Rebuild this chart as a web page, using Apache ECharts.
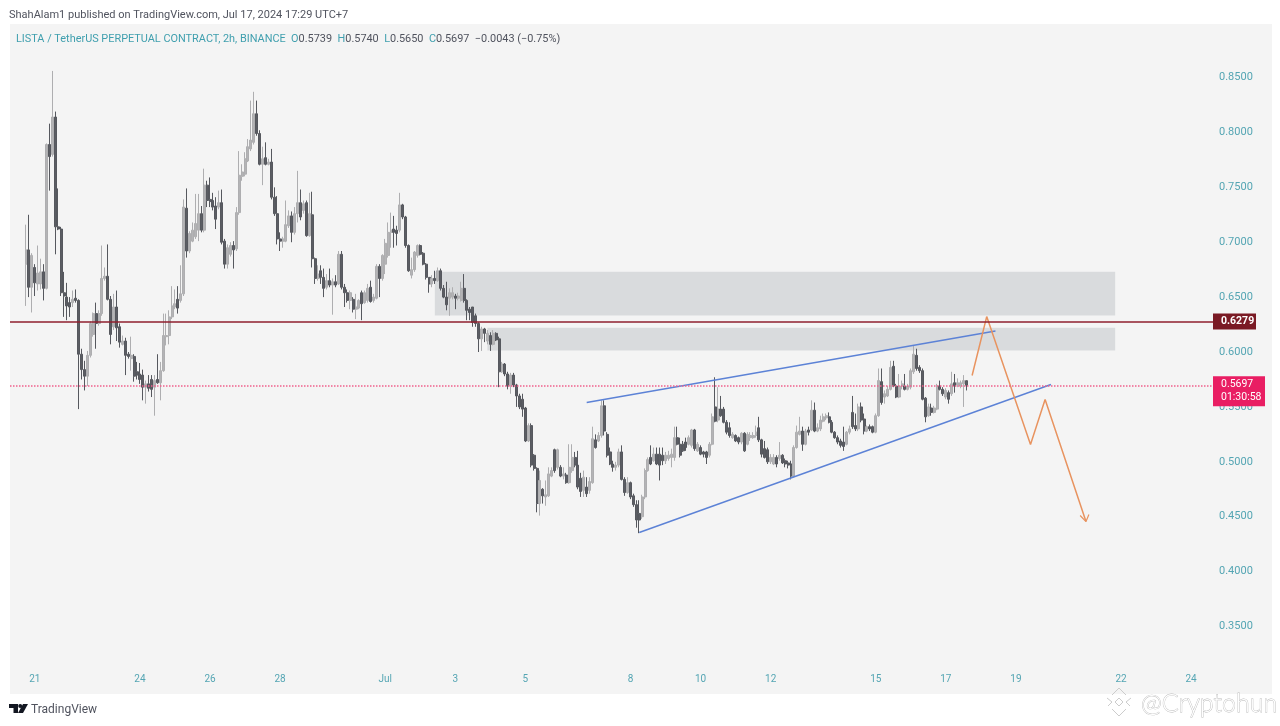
<!DOCTYPE html>
<html>
<head>
<meta charset="utf-8">
<title>LISTA / TetherUS 2h</title>
<style>
  html, body { margin: 0; padding: 0; background: #fff; }
  #chart { width: 1280px; height: 726px; }
</style>
<script src="https://cdn.jsdelivr.net/npm/echarts@6/dist/echarts.min.js"></script>
</head>
<body>
<div id="chart"></div>
<script>
// candles are 2h bars, first one sits at slot 5 of the time scale
const firstBar = 5;
const slotCount = 412;

const opens = [
  .680,.693,.659,.677,.662,.662,.673,.658,.789,.780,
  .814,.714,.712,.654,.650,.645,.645,.649,.647,.598,
  .584,.578,.597,.616,.635,.626,.635,.667,.669,.648,
  .623,.641,.623,.607,.610,.598,.594,.596,.582,.580,
  .579,.568,.571,.575,.568,.575,.572,.583,.614,.615,
  .632,.641,.648,.647,.653,.731,.692,.701,.705,.711,
  .726,.711,.752,.739,.738,.733,.732,.736,.701,.680,
  .689,.697,.694,.727,.760,.762,.774,.785,.791,.817,
  .799,.771,.777,.771,.773,.741,.726,.703,.701,.701,
  .715,.724,.709,.726,.736,.729,.736,.706,.725,.685,
  .667,.674,.668,.659,.665,.661,.664,.662,.689,.659,
  .654,.647,.648,.639,.640,.654,.645,.647,.659,.647,
  .649,.678,.667,.680,.688,.709,.712,.711,.711,.734,
  .723,.697,.670,.675,.688,.697,.690,.680,.668,.662,
  .667,.665,.674,.658,.650,.649,.650,.651,.649,.647,
  .658,.647,.639,.641,.633,.626,.612,.621,.610,.615,
  .607,.617,.612,.582,.589,.580,.569,.579,.570,.560,
  .557,.549,.519,.533,.506,.494,.462,.475,.468,.469,
  .487,.511,.495,.495,.487,.488,.481,.492,.504,.497,
  .485,.474,.477,.474,.481,.520,.519,.524,.551,.525,
  .509,.498,.495,.497,.509,.484,.472,.481,.469,.461,
  .453,.450,.468,.492,.504,.501,.507,.507,.506,.501,
  .503,.504,.504,.522,.516,.516,.518,.516,.515,.529,
  .510,.513,.509,.509,.506,.516,.550,.538,.548,.548,
  .536,.531,.522,.524,.522,.518,.526,.516,.522,.522,
  .524,.531,.520,.512,.511,.500,.498,.504,.503,.506,
  .501,.499,.498,.487,.513,.525,.528,.516,.529,.529,
  .547,.528,.530,.537,.540,.541,.536,.527,.522,.519,
  .518,.516,.527,.545,.533,.530,.550,.539,.528,.532,
  .532,.527,.542,.573,.559,.560,.566,.587,.569,.559,
  .569,.569,.566,.568,.582,.597,.586,.583,.558,.542,
  .549,.545,.548,.569,.566,.559,.563,.562,.572,.570,
  .569,.571,.5739
];
const closes = [
  .693,.659,.688,.663,.672,.673,.658,.789,.778,.814,
  .714,.712,.654,.651,.642,.641,.648,.647,.598,.584,
  .578,.597,.626,.635,.626,.635,.667,.669,.648,.616,
  .641,.622,.609,.610,.597,.596,.597,.578,.579,.575,
  .568,.571,.567,.566,.574,.572,.583,.615,.615,.632,
  .642,.644,.640,.653,.732,.692,.708,.711,.717,.726,
  .711,.752,.738,.737,.732,.721,.736,.700,.680,.695,
  .697,.693,.727,.761,.764,.776,.787,.793,.817,.799,
  .771,.776,.771,.773,.741,.726,.703,.701,.703,.716,
  .724,.709,.726,.736,.723,.735,.706,.726,.685,.667,
  .671,.668,.658,.665,.661,.664,.661,.689,.659,.654,
  .647,.654,.639,.641,.647,.644,.654,.658,.646,.650,
  .678,.667,.688,.699,.709,.711,.709,.708,.734,.723,
  .697,.674,.675,.691,.697,.689,.680,.668,.662,.667,
  .665,.674,.658,.650,.643,.654,.654,.649,.651,.658,
  .647,.638,.636,.627,.626,.612,.621,.617,.617,.607,
  .617,.611,.582,.589,.580,.569,.579,.570,.560,.550,
  .548,.519,.533,.497,.494,.462,.483,.469,.470,.489,
  .492,.492,.511,.487,.489,.481,.495,.504,.497,.477,
  .473,.486,.471,.482,.521,.513,.524,.551,.528,.506,
  .498,.495,.497,.509,.484,.472,.481,.468,.461,.447,
  .447,.468,.492,.502,.498,.507,.498,.497,.501,.506,
  .506,.507,.522,.516,.506,.510,.513,.522,.529,.512,
  .516,.507,.507,.504,.516,.541,.537,.548,.542,.536,
  .527,.524,.525,.519,.518,.526,.510,.525,.524,.524,
  .527,.520,.507,.504,.500,.504,.504,.498,.506,.499,
  .498,.497,.487,.513,.527,.528,.516,.528,.527,.547,
  .528,.531,.538,.541,.542,.536,.527,.522,.518,.515,
  .514,.527,.530,.532,.530,.550,.538,.528,.532,.530,
  .527,.542,.574,.554,.562,.566,.586,.569,.559,.569,
  .571,.566,.569,.583,.598,.585,.583,.557,.541,.550,
  .545,.549,.569,.566,.562,.565,.557,.571,.569,.572,
  .572,.574,.5697
];
const highs = [
  .716,.725,.690,.680,.697,.685,.680,.790,.808,.856,
  .819,.749,.714,.673,.663,.650,.656,.657,.648,.603,
  .592,.601,.628,.636,.645,.638,.697,.677,.698,.651,
  .653,.656,.626,.615,.613,.600,.614,.598,.591,.590,
  .584,.574,.579,.579,.579,.598,.591,.635,.635,.638,
  .660,.657,.660,.679,.739,.749,.710,.718,.744,.744,
  .733,.767,.756,.759,.745,.741,.747,.748,.703,.698,
  .700,.701,.732,.783,.771,.782,.794,.829,.837,.829,
  .802,.787,.791,.776,.785,.750,.742,.709,.705,.738,
  .729,.728,.732,.765,.748,.738,.738,.745,.746,.686,
  .679,.679,.676,.671,.676,.667,.670,.692,.692,.662,
  .657,.656,.650,.653,.648,.656,.656,.662,.665,.653,
  .680,.680,.689,.703,.718,.727,.724,.715,.745,.735,
  .724,.698,.686,.692,.698,.698,.691,.681,.668,.670,
  .674,.677,.676,.661,.664,.658,.659,.653,.654,.664,
  .671,.648,.641,.641,.635,.627,.623,.622,.620,.618,
  .620,.618,.614,.591,.590,.582,.581,.581,.571,.562,
  .562,.550,.535,.535,.507,.495,.492,.476,.483,.495,
  .495,.512,.512,.497,.495,.490,.516,.516,.509,.510,
  .490,.492,.486,.486,.532,.525,.527,.556,.556,.527,
  .513,.501,.500,.512,.515,.486,.486,.482,.471,.465,
  .465,.470,.494,.504,.515,.513,.513,.513,.513,.509,
  .510,.512,.532,.532,.522,.519,.522,.524,.530,.530,
  .518,.515,.510,.510,.518,.544,.577,.568,.560,.550,
  .538,.536,.527,.525,.523,.527,.527,.527,.527,.527,
  .533,.541,.521,.519,.513,.507,.507,.506,.518,.507,
  .503,.501,.501,.515,.533,.541,.532,.530,.532,.556,
  .554,.535,.542,.544,.544,.545,.538,.528,.524,.521,
  .532,.528,.533,.560,.544,.553,.554,.544,.533,.534,
  .533,.544,.585,.585,.565,.569,.592,.592,.571,.580,
  .574,.580,.571,.585,.606,.603,.588,.585,.559,.553,
  .553,.551,.571,.574,.568,.567,.565,.582,.580,.576,
  .574,.579,.5740
];
const lows = [
  .642,.650,.636,.651,.656,.657,.647,.657,.747,.778,
  .689,.711,.651,.632,.629,.632,.641,.645,.548,.575,
  .565,.569,.595,.614,.603,.624,.633,.665,.647,.607,
  .620,.610,.604,.606,.579,.594,.583,.573,.575,.571,
  .556,.553,.564,.559,.542,.571,.556,.582,.606,.607,
  .630,.639,.635,.645,.651,.686,.690,.700,.703,.701,
  .709,.709,.732,.732,.729,.712,.730,.698,.676,.676,
  .687,.676,.692,.725,.756,.760,.773,.783,.789,.797,
  .770,.752,.770,.770,.739,.724,.698,.692,.695,.700,
  .713,.700,.707,.718,.720,.726,.705,.705,.677,.662,
  .665,.662,.650,.657,.659,.634,.659,.661,.657,.641,
  .645,.639,.636,.630,.639,.629,.644,.645,.645,.645,
  .648,.650,.665,.671,.686,.695,.695,.697,.709,.721,
  .695,.673,.667,.673,.686,.688,.679,.666,.654,.659,
  .662,.664,.656,.649,.638,.633,.648,.639,.647,.646,
  .645,.629,.629,.623,.623,.600,.601,.609,.607,.601,
  .606,.610,.568,.581,.578,.566,.562,.568,.550,.548,
  .541,.518,.518,.495,.492,.454,.451,.462,.460,.468,
  .486,.490,.493,.486,.484,.480,.480,.490,.495,.475,
  .468,.468,.468,.471,.480,.512,.518,.522,.524,.504,
  .497,.491,.492,.495,.483,.469,.471,.466,.459,.440,
  .435,.448,.466,.491,.497,.500,.497,.483,.497,.498,
  .501,.495,.501,.515,.504,.509,.510,.515,.513,.510,
  .509,.506,.504,.498,.504,.515,.536,.536,.541,.535,
  .525,.522,.521,.518,.516,.516,.509,.515,.519,.521,
  .522,.518,.504,.503,.498,.498,.497,.495,.501,.498,
  .495,.494,.484,.486,.512,.524,.510,.515,.524,.528,
  .527,.527,.528,.536,.538,.535,.526,.521,.516,.513,
  .510,.515,.525,.530,.528,.528,.536,.525,.527,.528,
  .526,.526,.541,.552,.553,.559,.565,.568,.558,.558,
  .566,.565,.565,.566,.580,.583,.581,.556,.536,.541,
  .542,.544,.547,.565,.560,.557,.553,.560,.563,.568,
  .567,.550,.5650
];

// price axis
const priceTicks = [.35,.40,.45,.50,.55,.60,.65,.70,.75,.80,.85];
const priceMin = .3154;
const priceMax = .8728;

// time axis: only these days get a label
const tickDays = ['06-21','06-24','06-26','06-28','07-01','07-03','07-05','07-08','07-10','07-12','07-15','07-17','07-19','07-22','07-24'];
const tickLabels = ['21','24','26','28','Jul','3','5','8','10','12','15','17','19','22','24'];

// levels and drawings, [slot, price]
const resistanceLevel = .6279;
const lastPrice = .5697;
const upperZone = [[145, .6731], [378, .6332]];
const lowerZone = [[163, .6221], [378, .6014]];
const wedgeTop = [[197, .5540], [337, .6191]];
const wedgeBottom = [[215, .4356], [356, .5704]];
const projection = [[329, .5786], [334, .6323], [349, .5157], [354, .5567], [368, .4456]];
const arrowHead = [[366, .4511], [368, .4456], [369, .4520]];

function pad(n) { return (n < 10 ? '0' : '') + n; }

// slots start 16h before Jun 21
const categories = [];
for (let i = 0; i < slotCount; i++) {
  const d = new Date(Date.UTC(2024, 5, 20, 8 + i * 2));
  categories.push(pad(d.getUTCMonth() + 1) + '-' + pad(d.getUTCDate()) + ' ' + pad(d.getUTCHours()));
}

const candles = categories.map(function (c, i) {
  const k = i - firstBar;
  if (k < 0 || k >= opens.length) return ['-', '-', '-', '-'];
  return [opens[k], closes[k], lows[k], highs[k]];
});

function isTick(val) {
  return val.slice(-2) === '00' && tickDays.indexOf(val.slice(0, 5)) >= 0;
}

const teal = '#54a5b3';
const font = 'Roboto';

function drawLine(points, color, width, z) {
  return {
    type: 'line', data: points, symbol: 'none', silent: true, z: z,
    lineStyle: { color: color, width: width }
  };
}

const option = {
  animation: false,
  backgroundColor: '#fff',
  graphic: [
    { type: 'rect', z: -10, silent: true, shape: { x: 10, y: 24, width: 1262, height: 670 }, style: { fill: '#f4f4f4' } },
    // TradingView logo
    { type: 'polygon', silent: true, shape: { points: [[9, 704], [18, 704], [18, 713], [13.5, 713], [13.5, 708], [9, 708]] }, style: { fill: '#131722' } },
    { type: 'circle', silent: true, shape: { cx: 20.2, cy: 706, r: 2 }, style: { fill: '#131722' } },
    { type: 'polygon', silent: true, shape: { points: [[23, 704], [28, 704], [23, 713], [18, 713]] }, style: { fill: '#131722' } },
    // watermark diamond
    { type: 'polyline', silent: true, shape: { points: [[1112, 695], [1119, 688], [1126, 695]] }, style: { fill: 'none', stroke: '#ccc', lineWidth: 1 } },
    { type: 'polyline', silent: true, shape: { points: [[1108, 706], [1112, 702], [1107, 698]] }, style: { fill: 'none', stroke: '#ccc', lineWidth: 1 } },
    { type: 'polyline', silent: true, shape: { points: [[1130, 706], [1126, 702], [1131, 698]] }, style: { fill: 'none', stroke: '#ccc', lineWidth: 1 } },
    { type: 'polygon', silent: true, shape: { points: [[1119, 698], [1123, 702], [1119, 706], [1115, 702]] }, style: { fill: '#fff', stroke: '#ccc', lineWidth: 1 } },
    { type: 'polyline', silent: true, shape: { points: [[1112, 709], [1119, 716], [1126, 709]] }, style: { fill: 'none', stroke: '#ccc', lineWidth: 1 } },
    { type: 'text', silent: true, x: 1141, y: 691, style: { text: '@Cryptohun', font: '300 25px Lato', fill: '#fff', stroke: '#b9b9b9', lineWidth: 0.8 } }
  ],
  title: [
    {
      text: 'ShahAlam1 published on TradingView.com, Jul 17, 2024 17:29 UTC+7',
      left: 9, top: 10, padding: 0,
      textStyle: { fontFamily: font, fontSize: 11, fontWeight: 'normal', color: '#50535e' }
    },
    {
      text: '{t|LISTA / TetherUS PERPETUAL CONTRACT, 2h, BINANCE  O}{v|0.5739}{t|  H}{v|0.5740}{t|  L}{v|0.5650}{t|  C}{v|0.5697}{v|  \u22120.0043 (\u22120.75%)}',
      left: 16, top: 34, padding: 0,
      textStyle: {
        rich: {
          t: { fontFamily: font, fontSize: 10.9, fontWeight: 'normal', color: '#3f9fae' },
          v: { fontFamily: font, fontSize: 10.9, fontWeight: 'normal', color: '#50535e' }
        }
      }
    },
    {
      text: 'TradingView',
      left: 31, top: 704, padding: 0,
      textStyle: { fontFamily: font, fontSize: 12, fontWeight: 'normal', color: '#50535e' }
    }
  ],
  grid: { left: 10, top: 52.5, width: 1203, height: 612, containLabel: false },
  xAxis: {
    type: 'category',
    data: categories,
    boundaryGap: true,
    axisLine: { show: false },
    axisTick: { show: false },
    splitLine: { show: false },
    axisLabel: {
      interval: function (i, val) { return isTick(val); },
      formatter: function (val) { return tickLabels[tickDays.indexOf(val.slice(0, 5))]; },
      color: teal, fontFamily: font, fontSize: 10, margin: 10
    }
  },
  yAxis: {
    type: 'value',
    position: 'right',
    min: priceMin,
    max: priceMax,
    axisLine: { show: false },
    axisTick: { show: false },
    splitLine: { show: false },
    axisLabel: {
      customValues: priceTicks,
      formatter: function (v) { return v.toFixed(4); },
      color: teal, fontFamily: font, fontSize: 11, margin: 6
    }
  },
  series: [
    {
      type: 'candlestick',
      data: candles,
      barWidth: 2.5,
      z: 3,
      silent: true,
      itemStyle: { color: '#b4b4b6', color0: '#5b5d63', borderColor: '#aeaeb0', borderColor0: '#56585e', borderWidth: 1 },
      markArea: {
        silent: true,
        itemStyle: { color: '#d9dbdd' },
        data: [upperZone, lowerZone].map(function (z) {
          return [{ coord: z[0] }, { coord: z[1] }];
        })
      },
      markLine: {
        silent: true,
        symbol: 'none',
        precision: 4,
        data: [
          {
            yAxis: resistanceLevel,
            lineStyle: { color: '#8f1f2e', type: 'solid', width: 1.5 },
            label: {
              position: 'end', distance: 0, formatter: resistanceLevel.toFixed(4),
              backgroundColor: '#7a1a24', color: '#fff', fontFamily: font, fontSize: 10.5, fontWeight: 'bold',
              width: 33, height: 16, lineHeight: 16, padding: [0, 2, 0, 8], align: 'left'
            }
          },
          {
            yAxis: lastPrice,
            lineStyle: { color: '#f0608c', type: 'dotted', width: 1.5 },
            label: {
              position: 'end', distance: 0, offset: [0, 6], formatter: lastPrice.toFixed(4) + '\n01:30:58',
              backgroundColor: '#e91e63', color: '#fff', fontFamily: font, fontSize: 10.5,
              width: 43, height: 28, lineHeight: 13, padding: [1, 1, 1, 8], align: 'left'
            }
          }
        ]
      }
    },
    drawLine(wedgeTop, '#5c82d6', 1.4, 4),
    drawLine(wedgeBottom, '#5c82d6', 1.4, 4),
    drawLine(projection, '#e8935f', 1.5, 4),
    drawLine(arrowHead, '#e8935f', 1.2, 4)
  ]
};

const chart = echarts.init(document.getElementById('chart'));
chart.setOption(option);
</script>
</body>
</html>
